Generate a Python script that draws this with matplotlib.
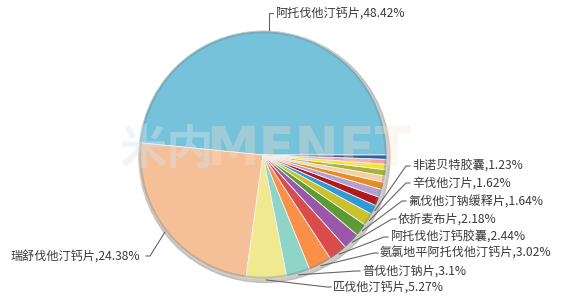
import numpy as np
import matplotlib
matplotlib.use("Agg")
import matplotlib.pyplot as plt
from matplotlib.patches import Circle

plt.rcParams['font.family'] = ['Noto Sans CJK SC', 'DejaVu Sans']

# share of each product (%), pie order (counter-clockwise from 3 o'clock)
names = ['阿托伐他汀钙片', '瑞舒伐他汀钙片', '匹伐他汀钙片', '普伐他汀钠片',
         '氨氯地平阿托伐他汀钙片', '阿托伐他汀钙胶囊', '依折麦布片',
         '氟伐他汀钠缓释片', '辛伐他汀片', '非诺贝特胶囊']
shares = [48.42, 24.38, 5.27, 3.1, 3.02, 2.44, 2.18, 1.64, 1.62, 1.23]
# unlabeled small slices (estimated)
others = [1.15, 1.05, 0.95, 0.85, 0.8, 0.7, 0.65, 0.55]

colors = ['#76c2da', '#f5bf97', '#f1e98f', '#8ed4c7', '#fa8f47', '#d94c4c',
          '#9a57aa', '#5c9b34', '#c9c22b', '#2d9bd7', '#b3181f', '#b59fcf',
          '#e78b27', '#f4d0a3', '#a7b23b', '#eee52c', '#f0a3a3', '#2e5ea7']

# label text positions (pixels, from top-left)
label_pos = [(275, 13), (10, 256), (333, 287), (362, 271), (380, 253),
             (390, 237), (398, 219), (408, 201), (412, 183), (412, 166)]

W, H = 562, 298
fig = plt.figure(figsize=(W / 100, H / 100), dpi=100)
ax = fig.add_axes([0, 0, 1, 1])

cx, cy, r = 263, H - 155, 124

# shadow
ax.add_patch(Circle((cx + 1.5, cy - 2), r + 1.5, color='#b0a8a0', alpha=0.6, zorder=1))

vals = shares + others
wedges, _ = ax.pie(vals, colors=colors, startangle=0, counterclock=True,
                   center=(cx, cy), radius=r, frame=True,
                   wedgeprops=dict(edgecolor='#f4f4f4', linewidth=0.6))
for w in wedges:
    w.set_zorder(2)
ax.set_xlim(0, W)
ax.set_ylim(0, H)
ax.set_aspect('equal')
ax.axis('off')
ax.add_patch(Circle((cx, cy), r - 1, fill=False, edgecolor='#6f8a90', alpha=0.35, lw=2, zorder=3))

# watermark
ax.text(120, H - 150, '米内', fontsize=34, fontweight='bold', color='#d6e6ef',
        va='center', ha='left', alpha=0.4, zorder=5)
ax.text(206, H - 150, 'MENET', fontsize=38, fontweight='bold', color='#fde2cf',
        va='center', ha='left', family='DejaVu Sans', alpha=0.3, zorder=5)

for i, (name, val) in enumerate(zip(names, shares)):
    w = wedges[i]
    ang = np.deg2rad((w.theta1 + w.theta2) / 2)
    ex, ey = cx + (r + 1) * np.cos(ang), cy + (r + 1) * np.sin(ang)
    tx, ty = label_pos[i]
    ty = H - ty
    txt = f'{name},{val:g}%'
    if i == 0:
        ax.plot([ex, ex, tx - 2], [ey, ty, ty], color='#666666', lw=0.8, zorder=4)
    elif i == 1:
        ax.plot([ex, tx + 140, tx + 136], [ey, ty, ty], color='#666666', lw=0.8, zorder=4)
    else:
        ax.plot([ex, tx - 6, tx - 2], [ey, ty, ty], color='#666666', lw=0.8, zorder=4)
    ax.text(tx, ty, txt, fontsize=8.7, color='#3a3a3a', va='center', ha='left', zorder=6)

fig.savefig('out.png', dpi=100)
